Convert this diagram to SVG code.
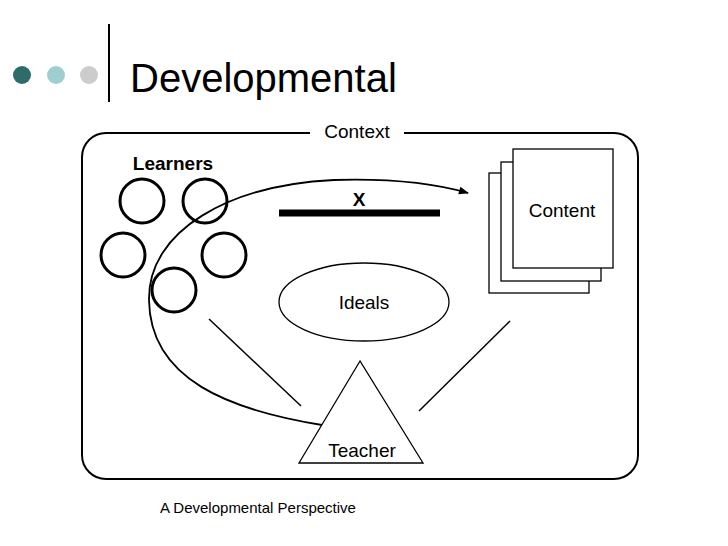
<svg xmlns="http://www.w3.org/2000/svg" width="728" height="546" viewBox="0 0 728 546">
<defs>
<style>
text{font-family:"Liberation Sans",Arial,sans-serif;fill:#000}
.s{fill:none;stroke:#000}
.pg{fill:#fff;stroke:#000;stroke-width:1.3}
</style>
<marker id="ah" viewBox="0 0 10 10" refX="9" refY="5" markerWidth="14" markerHeight="10" markerUnits="userSpaceOnUse" orient="auto"><path d="M0,1 L10,5 L0,9 Z" fill="#000"/></marker>
</defs>
<rect width="728" height="546" fill="#fff"/>
<g id="header">
<circle cx="22" cy="75" r="9" fill="#2e6b6b"/>
<circle cx="56" cy="75" r="9" fill="#9ecfd0"/>
<circle cx="89" cy="75" r="9" fill="#cccccc"/>
<line x1="109" y1="24" x2="109" y2="102" stroke="#000" stroke-width="2"/>
<text x="130" y="92" font-size="40">Developmental</text>
</g>
<g id="context">
<rect class="s" x="82" y="133" width="556" height="346" rx="24" stroke-width="2"/>
<rect x="310" y="124" width="94" height="18" fill="#fff"/>
<text x="357" y="138" font-size="19" text-anchor="middle">Context</text>
</g>
<g id="learners">
<text x="173" y="170" font-size="19" font-weight="bold" text-anchor="middle">Learners</text>
<g class="s" stroke-width="3">
<circle cx="142" cy="201" r="22"/>
<circle cx="205" cy="201" r="22"/>
<circle cx="123" cy="255" r="22"/>
<circle cx="224" cy="255" r="22"/>
<circle cx="174" cy="290" r="22"/>
</g>
</g>
<g id="content">
<rect class="pg" x="489" y="173" width="100" height="120"/>
<rect class="pg" x="501" y="162" width="100" height="119"/>
<rect class="pg" x="513" y="149" width="100" height="119"/>
<text x="562" y="217" font-size="19" text-anchor="middle">Content</text>
</g>
<g id="ideals">
<ellipse class="s" cx="364" cy="302" rx="85" ry="39" stroke-width="1.3"/>
<text x="364" y="309" font-size="19" text-anchor="middle">Ideals</text>
</g>
<g id="teacher">
<polygon class="s" points="360,361 299,463 423,463" stroke-width="1.3" fill="#fff"/>
<text x="362" y="457" font-size="19" text-anchor="middle">Teacher</text>
</g>
<g id="connectors">
<path class="s" stroke-width="1.8" d="M322,425 C230,410 150,380 149,300 C148,230 230,185 334,180 C400,178 440,185 468,193" marker-end="url(#ah)"/>
<line x1="279" y1="213" x2="440" y2="213" stroke="#000" stroke-width="7"/>
<text x="359" y="206" font-size="19" font-weight="bold" text-anchor="middle">X</text>
<line class="s" x1="209" y1="319" x2="301" y2="406" stroke-width="1.5"/>
<line class="s" x1="510" y1="321" x2="419" y2="411" stroke-width="1.5"/>
</g>
<text x="160" y="513" font-size="15">A Developmental Perspective</text>
</svg>
